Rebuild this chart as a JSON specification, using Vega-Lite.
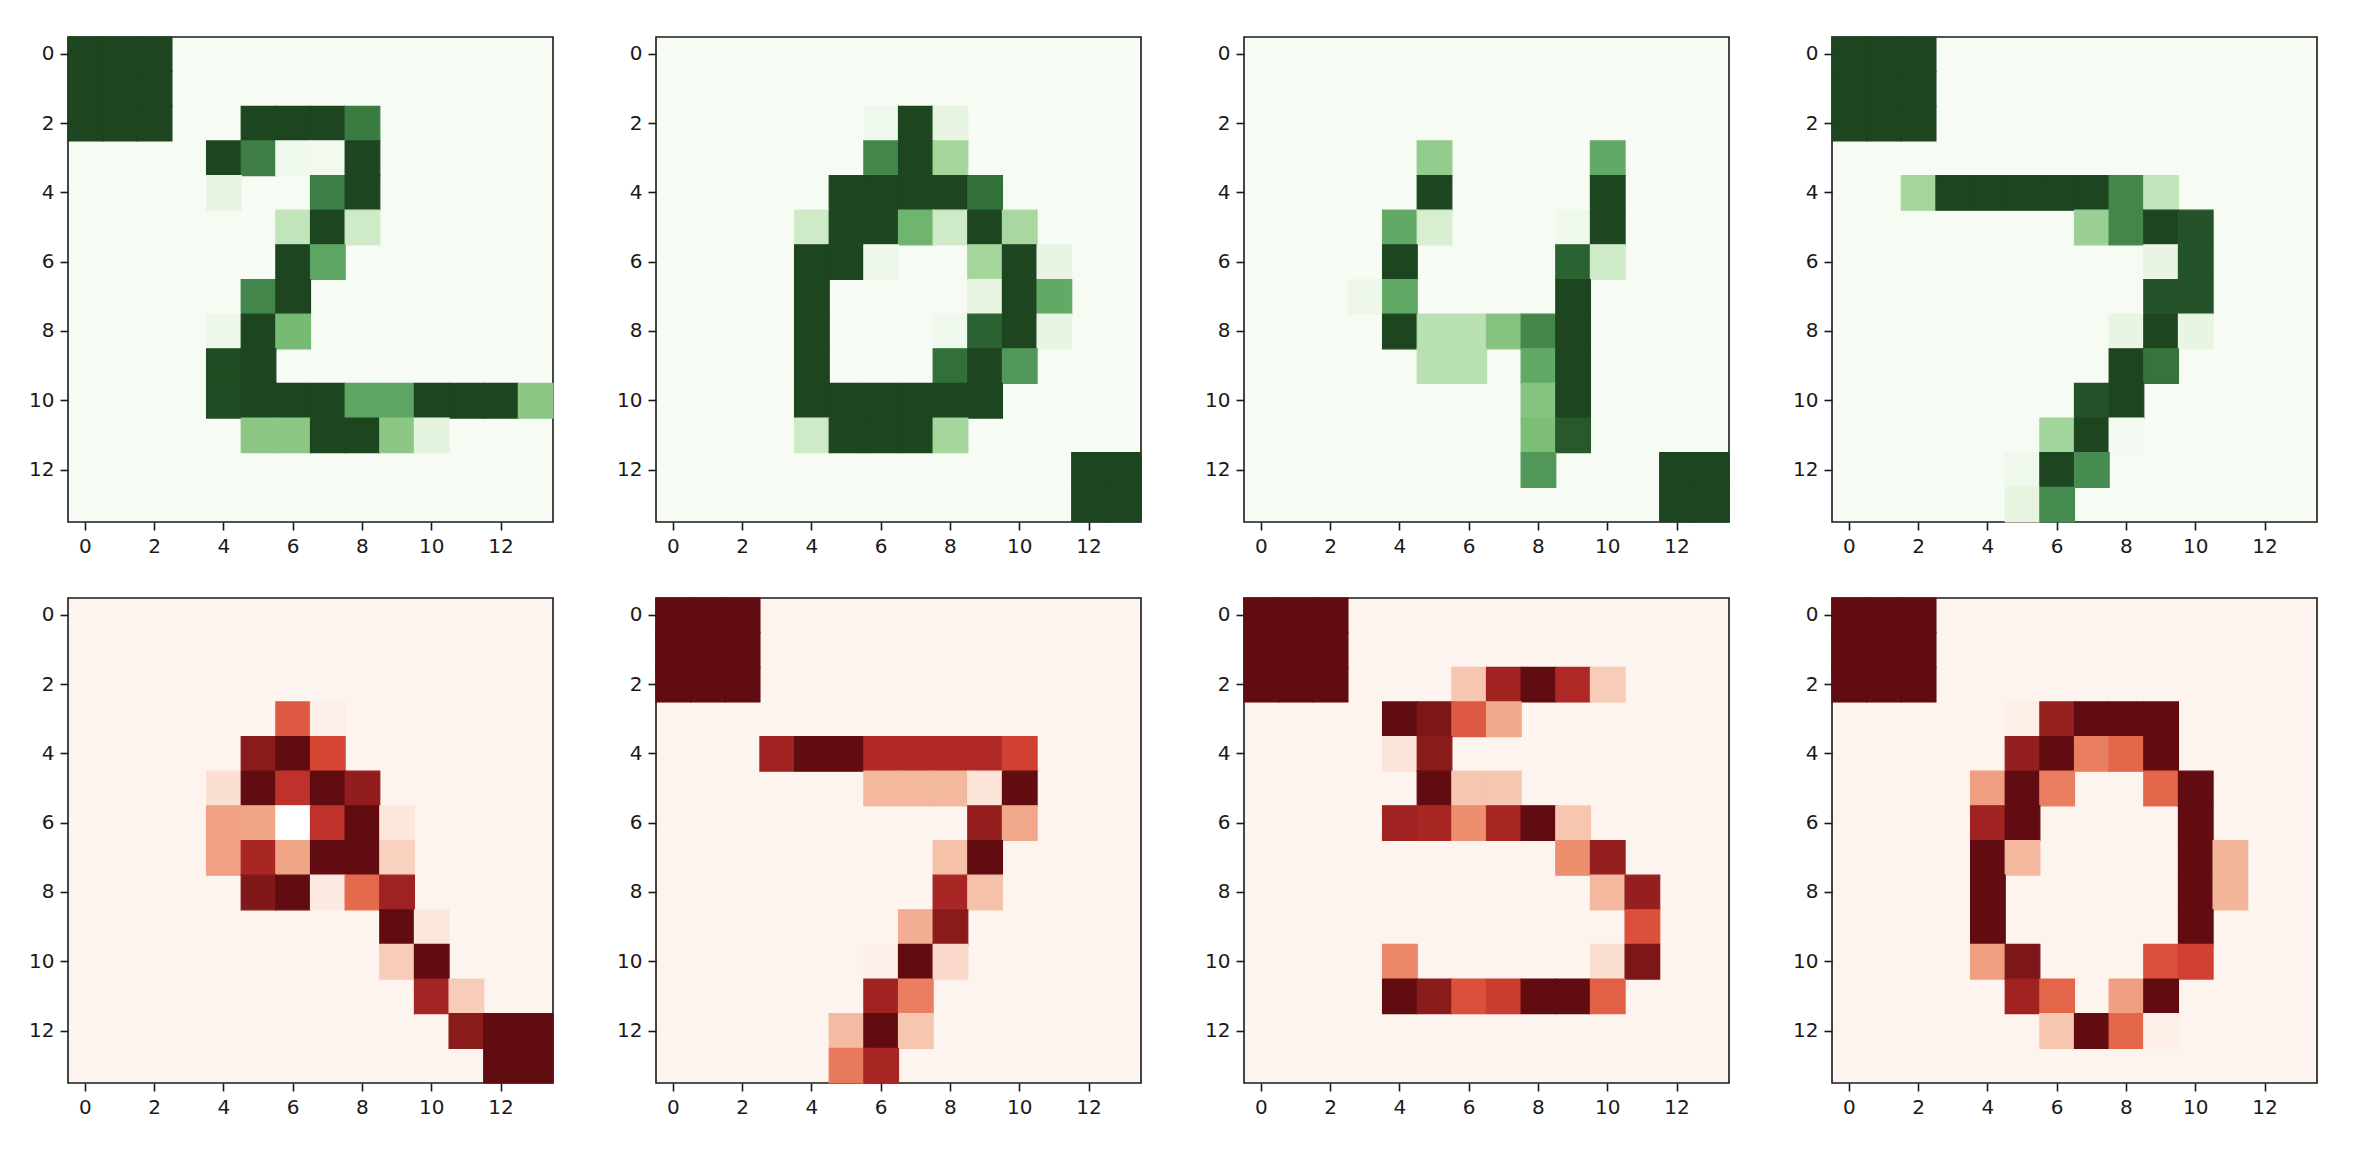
{
"$schema": "https://vega.github.io/schema/vega-lite/v6.json",
"background": "white",
"padding": {"left": 27, "top": 35, "right": 0, "bottom": 0},
"datasets": {"d": [
{"p":1,"r":0,"c":0,"v":1},{"p":1,"r":0,"c":1,"v":1},{"p":1,"r":0,"c":2,"v":1},
{"p":1,"r":1,"c":0,"v":1},{"p":1,"r":1,"c":1,"v":1},{"p":1,"r":1,"c":2,"v":1},
{"p":1,"r":2,"c":0,"v":1},{"p":1,"r":2,"c":1,"v":1},{"p":1,"r":2,"c":2,"v":1},
{"p":1,"r":2,"c":5,"v":1},{"p":1,"r":2,"c":6,"v":1},{"p":1,"r":2,"c":7,"v":1},{"p":1,"r":2,"c":8,"v":0.8},
{"p":1,"r":3,"c":4,"v":1},{"p":1,"r":3,"c":5,"v":0.78},{"p":1,"r":3,"c":6,"v":0.05},{"p":1,"r":3,"c":7,"v":0.03},{"p":1,"r":3,"c":8,"v":1},
{"p":1,"r":4,"c":4,"v":0.1},{"p":1,"r":4,"c":7,"v":0.78},{"p":1,"r":4,"c":8,"v":1},
{"p":1,"r":5,"c":6,"v":0.27},{"p":1,"r":5,"c":7,"v":1},{"p":1,"r":5,"c":8,"v":0.22},
{"p":1,"r":6,"c":6,"v":1},{"p":1,"r":6,"c":7,"v":0.62},
{"p":1,"r":7,"c":5,"v":0.75},{"p":1,"r":7,"c":6,"v":1},
{"p":1,"r":8,"c":4,"v":0.06},{"p":1,"r":8,"c":5,"v":1},{"p":1,"r":8,"c":6,"v":0.52},
{"p":1,"r":9,"c":4,"v":0.98},{"p":1,"r":9,"c":5,"v":1},
{"p":1,"r":10,"c":4,"v":0.98},{"p":1,"r":10,"c":5,"v":1},{"p":1,"r":10,"c":6,"v":1},{"p":1,"r":10,"c":7,"v":1},{"p":1,"r":10,"c":8,"v":0.62},{"p":1,"r":10,"c":9,"v":0.62},{"p":1,"r":10,"c":10,"v":1},{"p":1,"r":10,"c":11,"v":1},{"p":1,"r":10,"c":12,"v":1},{"p":1,"r":10,"c":13,"v":0.45},
{"p":1,"r":11,"c":5,"v":0.45},{"p":1,"r":11,"c":6,"v":0.45},{"p":1,"r":11,"c":7,"v":1},{"p":1,"r":11,"c":8,"v":1},{"p":1,"r":11,"c":9,"v":0.45},{"p":1,"r":11,"c":10,"v":0.13},

{"p":2,"r":2,"c":6,"v":0.05},{"p":2,"r":2,"c":7,"v":1},{"p":2,"r":2,"c":8,"v":0.1},
{"p":2,"r":3,"c":6,"v":0.75},{"p":2,"r":3,"c":7,"v":1},{"p":2,"r":3,"c":8,"v":0.37},
{"p":2,"r":4,"c":5,"v":1},{"p":2,"r":4,"c":6,"v":1},{"p":2,"r":4,"c":7,"v":1},{"p":2,"r":4,"c":8,"v":1},{"p":2,"r":4,"c":9,"v":0.85},
{"p":2,"r":5,"c":4,"v":0.22},{"p":2,"r":5,"c":5,"v":1},{"p":2,"r":5,"c":6,"v":1},{"p":2,"r":5,"c":7,"v":0.55},{"p":2,"r":5,"c":8,"v":0.22},{"p":2,"r":5,"c":9,"v":1},{"p":2,"r":5,"c":10,"v":0.36},
{"p":2,"r":6,"c":4,"v":1},{"p":2,"r":6,"c":5,"v":1},{"p":2,"r":6,"c":6,"v":0.06},{"p":2,"r":6,"c":9,"v":0.37},{"p":2,"r":6,"c":10,"v":1},{"p":2,"r":6,"c":11,"v":0.1},
{"p":2,"r":7,"c":4,"v":1},{"p":2,"r":7,"c":9,"v":0.1},{"p":2,"r":7,"c":10,"v":1},{"p":2,"r":7,"c":11,"v":0.6},
{"p":2,"r":8,"c":4,"v":1},{"p":2,"r":8,"c":8,"v":0.05},{"p":2,"r":8,"c":9,"v":0.9},{"p":2,"r":8,"c":10,"v":1},{"p":2,"r":8,"c":11,"v":0.1},
{"p":2,"r":9,"c":4,"v":1},{"p":2,"r":9,"c":8,"v":0.85},{"p":2,"r":9,"c":9,"v":1},{"p":2,"r":9,"c":10,"v":0.68},
{"p":2,"r":10,"c":4,"v":1},{"p":2,"r":10,"c":5,"v":1},{"p":2,"r":10,"c":6,"v":1},{"p":2,"r":10,"c":7,"v":1},{"p":2,"r":10,"c":8,"v":1},{"p":2,"r":10,"c":9,"v":1},
{"p":2,"r":11,"c":4,"v":0.22},{"p":2,"r":11,"c":5,"v":1},{"p":2,"r":11,"c":6,"v":1},{"p":2,"r":11,"c":7,"v":1},{"p":2,"r":11,"c":8,"v":0.37},
{"p":2,"r":12,"c":12,"v":1},{"p":2,"r":12,"c":13,"v":1},{"p":2,"r":13,"c":12,"v":1},{"p":2,"r":13,"c":13,"v":1},

{"p":3,"r":3,"c":5,"v":0.43},{"p":3,"r":3,"c":10,"v":0.6},
{"p":3,"r":4,"c":5,"v":1},{"p":3,"r":4,"c":10,"v":1},
{"p":3,"r":5,"c":4,"v":0.6},{"p":3,"r":5,"c":5,"v":0.18},{"p":3,"r":5,"c":9,"v":0.05},{"p":3,"r":5,"c":10,"v":1},
{"p":3,"r":6,"c":4,"v":1},{"p":3,"r":6,"c":9,"v":0.9},{"p":3,"r":6,"c":10,"v":0.22},
{"p":3,"r":7,"c":3,"v":0.06},{"p":3,"r":7,"c":4,"v":0.6},{"p":3,"r":7,"c":9,"v":1},
{"p":3,"r":8,"c":4,"v":1},{"p":3,"r":8,"c":5,"v":0.3},{"p":3,"r":8,"c":6,"v":0.3},{"p":3,"r":8,"c":7,"v":0.47},{"p":3,"r":8,"c":8,"v":0.75},{"p":3,"r":8,"c":9,"v":1},
{"p":3,"r":9,"c":5,"v":0.3},{"p":3,"r":9,"c":6,"v":0.3},{"p":3,"r":9,"c":8,"v":0.6},{"p":3,"r":9,"c":9,"v":1},
{"p":3,"r":10,"c":8,"v":0.47},{"p":3,"r":10,"c":9,"v":1},
{"p":3,"r":11,"c":8,"v":0.5},{"p":3,"r":11,"c":9,"v":0.93},
{"p":3,"r":12,"c":8,"v":0.68},{"p":3,"r":12,"c":12,"v":1},{"p":3,"r":12,"c":13,"v":1},
{"p":3,"r":13,"c":12,"v":1},{"p":3,"r":13,"c":13,"v":1},

{"p":4,"r":0,"c":0,"v":1},{"p":4,"r":0,"c":1,"v":1},{"p":4,"r":0,"c":2,"v":1},
{"p":4,"r":1,"c":0,"v":1},{"p":4,"r":1,"c":1,"v":1},{"p":4,"r":1,"c":2,"v":1},
{"p":4,"r":2,"c":0,"v":1},{"p":4,"r":2,"c":1,"v":1},{"p":4,"r":2,"c":2,"v":1},
{"p":4,"r":4,"c":2,"v":0.37},{"p":4,"r":4,"c":3,"v":1},{"p":4,"r":4,"c":4,"v":1},{"p":4,"r":4,"c":5,"v":1},{"p":4,"r":4,"c":6,"v":1},{"p":4,"r":4,"c":7,"v":1},{"p":4,"r":4,"c":8,"v":0.75},{"p":4,"r":4,"c":9,"v":0.27},
{"p":4,"r":5,"c":7,"v":0.4},{"p":4,"r":5,"c":8,"v":0.75},{"p":4,"r":5,"c":9,"v":1},{"p":4,"r":5,"c":10,"v":0.95},
{"p":4,"r":6,"c":9,"v":0.1},{"p":4,"r":6,"c":10,"v":0.95},
{"p":4,"r":7,"c":9,"v":0.95},{"p":4,"r":7,"c":10,"v":0.95},
{"p":4,"r":8,"c":8,"v":0.1},{"p":4,"r":8,"c":9,"v":1},{"p":4,"r":8,"c":10,"v":0.1},
{"p":4,"r":9,"c":8,"v":1},{"p":4,"r":9,"c":9,"v":0.83},
{"p":4,"r":10,"c":7,"v":0.95},{"p":4,"r":10,"c":8,"v":1},
{"p":4,"r":11,"c":6,"v":0.38},{"p":4,"r":11,"c":7,"v":1},{"p":4,"r":11,"c":8,"v":0.02},
{"p":4,"r":12,"c":5,"v":0.05},{"p":4,"r":12,"c":6,"v":1},{"p":4,"r":12,"c":7,"v":0.73},
{"p":4,"r":13,"c":5,"v":0.12},{"p":4,"r":13,"c":6,"v":0.73},

{"p":5,"r":3,"c":6,"v":0.57},{"p":5,"r":3,"c":7,"v":0.03},
{"p":5,"r":4,"c":5,"v":0.9},{"p":5,"r":4,"c":6,"v":1},{"p":5,"r":4,"c":7,"v":0.63},
{"p":5,"r":5,"c":4,"v":0.13},{"p":5,"r":5,"c":5,"v":1},{"p":5,"r":5,"c":6,"v":0.72},{"p":5,"r":5,"c":7,"v":1},{"p":5,"r":5,"c":8,"v":0.88},
{"p":5,"r":6,"c":4,"v":0.34},{"p":5,"r":6,"c":5,"v":0.33},{"p":5,"r":6,"c":6,"v":0,"m":1},{"p":5,"r":6,"c":7,"v":0.72},{"p":5,"r":6,"c":8,"v":1},{"p":5,"r":6,"c":9,"v":0.08},
{"p":5,"r":7,"c":4,"v":0.34},{"p":5,"r":7,"c":5,"v":0.8},{"p":5,"r":7,"c":6,"v":0.33},{"p":5,"r":7,"c":7,"v":1},{"p":5,"r":7,"c":8,"v":1},{"p":5,"r":7,"c":9,"v":0.18},
{"p":5,"r":8,"c":5,"v":0.92},{"p":5,"r":8,"c":6,"v":1},{"p":5,"r":8,"c":7,"v":0.06},{"p":5,"r":8,"c":8,"v":0.52},{"p":5,"r":8,"c":9,"v":0.84},
{"p":5,"r":9,"c":9,"v":1},{"p":5,"r":9,"c":10,"v":0.08},
{"p":5,"r":10,"c":9,"v":0.2},{"p":5,"r":10,"c":10,"v":1},
{"p":5,"r":11,"c":10,"v":0.82},{"p":5,"r":11,"c":11,"v":0.2},
{"p":5,"r":12,"c":11,"v":0.9},{"p":5,"r":12,"c":12,"v":1},{"p":5,"r":12,"c":13,"v":1},
{"p":5,"r":13,"c":12,"v":1},{"p":5,"r":13,"c":13,"v":1},

{"p":6,"r":0,"c":0,"v":1},{"p":6,"r":0,"c":1,"v":1},{"p":6,"r":0,"c":2,"v":1},
{"p":6,"r":1,"c":0,"v":1},{"p":6,"r":1,"c":1,"v":1},{"p":6,"r":1,"c":2,"v":1},
{"p":6,"r":2,"c":0,"v":1},{"p":6,"r":2,"c":1,"v":1},{"p":6,"r":2,"c":2,"v":1},
{"p":6,"r":4,"c":3,"v":0.83},{"p":6,"r":4,"c":4,"v":1},{"p":6,"r":4,"c":5,"v":1},{"p":6,"r":4,"c":6,"v":0.77},{"p":6,"r":4,"c":7,"v":0.77},{"p":6,"r":4,"c":8,"v":0.77},{"p":6,"r":4,"c":9,"v":0.77},{"p":6,"r":4,"c":10,"v":0.65},
{"p":6,"r":5,"c":6,"v":0.27},{"p":6,"r":5,"c":7,"v":0.27},{"p":6,"r":5,"c":8,"v":0.27},{"p":6,"r":5,"c":9,"v":0.1},{"p":6,"r":5,"c":10,"v":1},
{"p":6,"r":6,"c":9,"v":0.87},{"p":6,"r":6,"c":10,"v":0.32},
{"p":6,"r":7,"c":8,"v":0.24},{"p":6,"r":7,"c":9,"v":1},
{"p":6,"r":8,"c":8,"v":0.8},{"p":6,"r":8,"c":9,"v":0.24},
{"p":6,"r":9,"c":7,"v":0.3},{"p":6,"r":9,"c":8,"v":0.9},
{"p":6,"r":10,"c":6,"v":0.03},{"p":6,"r":10,"c":7,"v":1},{"p":6,"r":10,"c":8,"v":0.15},
{"p":6,"r":11,"c":6,"v":0.83},{"p":6,"r":11,"c":7,"v":0.45},
{"p":6,"r":12,"c":5,"v":0.26},{"p":6,"r":12,"c":6,"v":1},{"p":6,"r":12,"c":7,"v":0.22},
{"p":6,"r":13,"c":5,"v":0.47},{"p":6,"r":13,"c":6,"v":0.8},

{"p":7,"r":0,"c":0,"v":1},{"p":7,"r":0,"c":1,"v":1},{"p":7,"r":0,"c":2,"v":1},
{"p":7,"r":1,"c":0,"v":1},{"p":7,"r":1,"c":1,"v":1},{"p":7,"r":1,"c":2,"v":1},
{"p":7,"r":2,"c":0,"v":1},{"p":7,"r":2,"c":1,"v":1},{"p":7,"r":2,"c":2,"v":1},
{"p":7,"r":2,"c":6,"v":0.22},{"p":7,"r":2,"c":7,"v":0.83},{"p":7,"r":2,"c":8,"v":1},{"p":7,"r":2,"c":9,"v":0.78},{"p":7,"r":2,"c":10,"v":0.2},
{"p":7,"r":3,"c":4,"v":1},{"p":7,"r":3,"c":5,"v":0.93},{"p":7,"r":3,"c":6,"v":0.57},{"p":7,"r":3,"c":7,"v":0.32},
{"p":7,"r":4,"c":4,"v":0.1},{"p":7,"r":4,"c":5,"v":0.9},
{"p":7,"r":5,"c":5,"v":1},{"p":7,"r":5,"c":6,"v":0.22},{"p":7,"r":5,"c":7,"v":0.22},
{"p":7,"r":6,"c":4,"v":0.83},{"p":7,"r":6,"c":5,"v":0.8},{"p":7,"r":6,"c":6,"v":0.4},{"p":7,"r":6,"c":7,"v":0.8},{"p":7,"r":6,"c":8,"v":1},{"p":7,"r":6,"c":9,"v":0.22},
{"p":7,"r":7,"c":9,"v":0.4},{"p":7,"r":7,"c":10,"v":0.87},
{"p":7,"r":8,"c":10,"v":0.27},{"p":7,"r":8,"c":11,"v":0.87},
{"p":7,"r":9,"c":11,"v":0.6},
{"p":7,"r":10,"c":4,"v":0.42},{"p":7,"r":10,"c":10,"v":0.13},{"p":7,"r":10,"c":11,"v":0.93},
{"p":7,"r":11,"c":4,"v":1},{"p":7,"r":11,"c":5,"v":0.9},{"p":7,"r":11,"c":6,"v":0.6},{"p":7,"r":11,"c":7,"v":0.67},{"p":7,"r":11,"c":8,"v":1},{"p":7,"r":11,"c":9,"v":1},{"p":7,"r":11,"c":10,"v":0.55},

{"p":8,"r":0,"c":0,"v":1},{"p":8,"r":0,"c":1,"v":1},{"p":8,"r":0,"c":2,"v":1},
{"p":8,"r":1,"c":0,"v":1},{"p":8,"r":1,"c":1,"v":1},{"p":8,"r":1,"c":2,"v":1},
{"p":8,"r":2,"c":0,"v":1},{"p":8,"r":2,"c":1,"v":1},{"p":8,"r":2,"c":2,"v":1},
{"p":8,"r":3,"c":5,"v":0.04},{"p":8,"r":3,"c":6,"v":0.86},{"p":8,"r":3,"c":7,"v":1},{"p":8,"r":3,"c":8,"v":1},{"p":8,"r":3,"c":9,"v":1},
{"p":8,"r":4,"c":5,"v":0.87},{"p":8,"r":4,"c":6,"v":1},{"p":8,"r":4,"c":7,"v":0.45},{"p":8,"r":4,"c":8,"v":0.53},{"p":8,"r":4,"c":9,"v":1},
{"p":8,"r":5,"c":4,"v":0.35},{"p":8,"r":5,"c":5,"v":1},{"p":8,"r":5,"c":6,"v":0.45},{"p":8,"r":5,"c":9,"v":0.53},{"p":8,"r":5,"c":10,"v":1},
{"p":8,"r":6,"c":4,"v":0.83},{"p":8,"r":6,"c":5,"v":1},{"p":8,"r":6,"c":10,"v":1},
{"p":8,"r":7,"c":4,"v":1},{"p":8,"r":7,"c":5,"v":0.27},{"p":8,"r":7,"c":10,"v":1},{"p":8,"r":7,"c":11,"v":0.28},
{"p":8,"r":8,"c":4,"v":1},{"p":8,"r":8,"c":10,"v":1},{"p":8,"r":8,"c":11,"v":0.28},
{"p":8,"r":9,"c":4,"v":1},{"p":8,"r":9,"c":10,"v":1},
{"p":8,"r":10,"c":4,"v":0.35},{"p":8,"r":10,"c":5,"v":0.93},{"p":8,"r":10,"c":9,"v":0.6},{"p":8,"r":10,"c":10,"v":0.65},
{"p":8,"r":11,"c":5,"v":0.83},{"p":8,"r":11,"c":6,"v":0.53},{"p":8,"r":11,"c":8,"v":0.35},{"p":8,"r":11,"c":9,"v":1},
{"p":8,"r":12,"c":6,"v":0.22},{"p":8,"r":12,"c":7,"v":1},{"p":8,"r":12,"c":8,"v":0.53},{"p":8,"r":12,"c":9,"v":0.04}
]},
"config": {
  "view": {"stroke": "#1a1a1a", "strokeWidth": 1.6},
  "axis": {"labelFont": "DejaVu Sans", "labelFontSize": 20, "labelColor": "#1a1a1a", "tickColor": "#1a1a1a", "tickSize": 8, "tickWidth": 1.6, "labelPadding": 6, "domain": false, "grid": false, "title": null,
    "values": [0,1,2,3,4,5,6,7,8,9,10,11,12,13],
    "labelExpr": "datum.value % 2 == 0 ? datum.label : ''",
    "tickOpacity": {"condition": {"test": "datum.value % 2 == 1", "value": 0}, "value": 1},
    "labelOverlap": false, "labelAngle": 0},
  "concat": {"spacing": 39}
},
"resolve": {"scale": {"color": "independent", "stroke": "independent"}},
"vconcat": [
  {
    "data": {"name": "d"},
    "transform": [{"filter": "datum.p <= 4"}],
    "facet": {"column": {"field": "p", "type": "ordinal", "header": null}},
    "spacing": 60,
    "resolve": {"axis": {"x": "independent", "y": "independent"}},
    "spec": {
      "width": 485, "height": 485,
      "view": {"fill": "#f6fbf4"},
      "mark": {"type": "rect", "strokeWidth": 1.2},
      "encoding": {
        "x": {"field": "c", "type": "ordinal", "scale": {"domain": [0,1,2,3,4,5,6,7,8,9,10,11,12,13], "paddingInner": 0, "paddingOuter": 0}},
        "y": {"field": "r", "type": "ordinal", "scale": {"domain": [0,1,2,3,4,5,6,7,8,9,10,11,12,13], "paddingInner": 0, "paddingOuter": 0}},
        "color": {"field": "v", "type": "quantitative", "scale": {"domain": [0, 1], "range": ["#f6fbf4", "#e5f4df", "#c8e7c0", "#a3d59b", "#7cbe78", "#5ba462", "#42864b", "#2e6a36", "#1d4520"]}, "legend": null},
        "stroke": {"field": "v", "type": "quantitative", "scale": {"domain": [0, 1], "range": ["#f6fbf4", "#e5f4df", "#c8e7c0", "#a3d59b", "#7cbe78", "#5ba462", "#42864b", "#2e6a36", "#1d4520"]}, "legend": null}
      }
    }
  },
  {
    "data": {"name": "d"},
    "transform": [{"filter": "datum.p > 4"}],
    "facet": {"column": {"field": "p", "type": "ordinal", "header": null}},
    "spacing": 60,
    "resolve": {"axis": {"x": "independent", "y": "independent"}},
    "spec": {
      "width": 485, "height": 485,
      "view": {"fill": "#fdf4f0"},
      "mark": {"type": "rect", "strokeWidth": 1.2},
      "encoding": {
        "x": {"field": "c", "type": "ordinal", "scale": {"domain": [0,1,2,3,4,5,6,7,8,9,10,11,12,13], "paddingInner": 0, "paddingOuter": 0}},
        "y": {"field": "r", "type": "ordinal", "scale": {"domain": [0,1,2,3,4,5,6,7,8,9,10,11,12,13], "paddingInner": 0, "paddingOuter": 0}},
        "color": {"condition": {"test": "datum.m === 1", "value": "#ffffff"}, "field": "v", "type": "quantitative", "scale": {"domain": [0, 1], "range": ["#fdf4f0", "#fbe0d3", "#f4bea6", "#ee9676", "#e66f52", "#d84636", "#b72b27", "#931f1e", "#600c10"]}, "legend": null},
        "stroke": {"condition": {"test": "datum.m === 1", "value": "#ffffff"}, "field": "v", "type": "quantitative", "scale": {"domain": [0, 1], "range": ["#fdf4f0", "#fbe0d3", "#f4bea6", "#ee9676", "#e66f52", "#d84636", "#b72b27", "#931f1e", "#600c10"]}, "legend": null}
      }
    }
  }
]
}
